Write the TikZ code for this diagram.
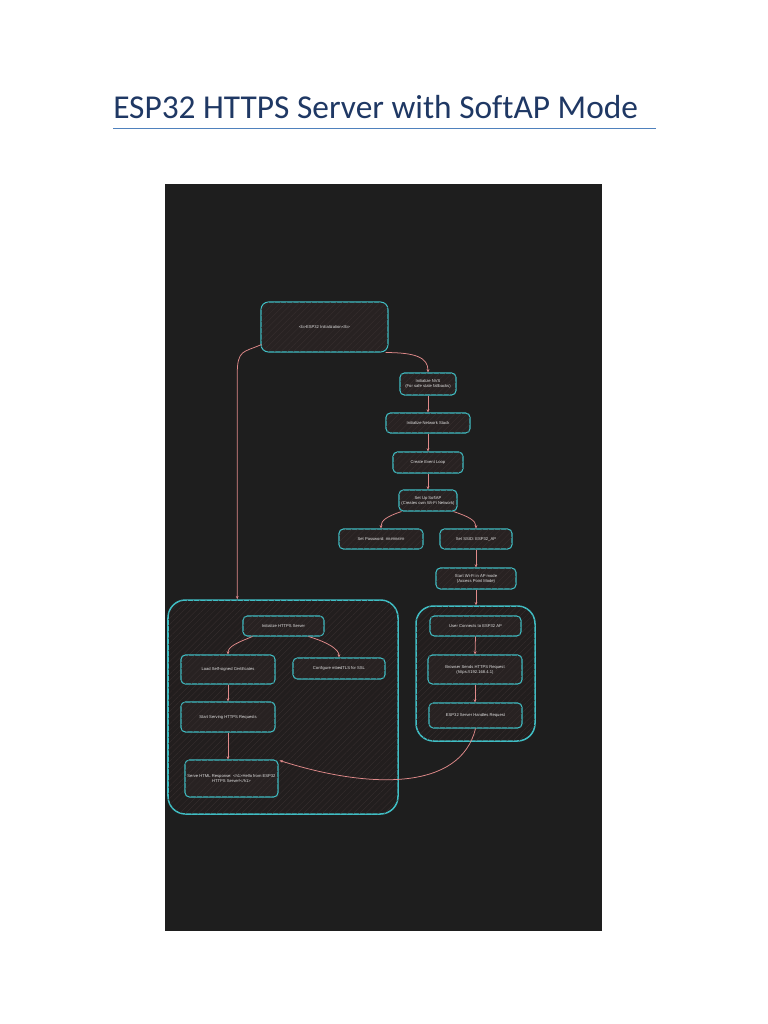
\documentclass[tikz,border=0pt]{standalone}
\usepackage{fontspec}
\setmainfont{Liberation Sans}
\newfontfamily\titlefont[Ligatures=NoCommon]{Carlito}
\usetikzlibrary{arrows.meta,patterns.meta,calc}
\newdimen\px \px=0.796875pt
\definecolor{cyanb}{RGB}{64,190,196}
\definecolor{edgec}{RGB}{224,138,138}
\definecolor{bgdark}{RGB}{30,30,30}
\definecolor{nodefill}{RGB}{40,34,34}
\definecolor{clfill}{RGB}{34,30,30}
\definecolor{hatch}{RGB}{56,47,47}
\definecolor{txt}{RGB}{228,228,228}
\definecolor{titleblue}{RGB}{31,56,100}
\definecolor{uline}{RGB}{79,129,189}
\tikzset{
  box/.style={draw=cyanb, line width=0.85pt, rounded corners=3.5pt, fill=nodefill,
    text=txt, font=\fontsize{3.3}{4.1}\selectfont, align=center, inner sep=0pt,
    postaction={pattern={Lines[angle=45,distance=3.5pt,line width=0.25pt]}, pattern color=hatch}},
  cluster/.style={draw=cyanb, line width=1.2pt, rounded corners=14pt, fill=clfill,
    inner sep=0pt,
    postaction={pattern={Lines[angle=45,distance=3.5pt,line width=0.25pt]}, pattern color=hatch}},
  edge/.style={draw=edgec, line width=0.6pt, -{Stealth[length=2.6pt,width=2.2pt]}}
}
\begin{document}
\begin{tikzpicture}[x=0.796875pt, y=-0.796875pt]
\useasboundingbox (0,0) rectangle (768,1024);
\fill[white] (0,0) rectangle (768,1024);
% title
\node[anchor=base west, inner sep=0pt, text=titleblue, font=\titlefont\fontsize{26.6}{30}\selectfont] (title) at (113,118) {ESP32 HTTPS Server with SoftAP Mode};
\draw[uline, line width=0.7pt] (113,128) -- (656,128);
% dark canvas
\fill[bgdark] (165,184) rectangle (602,931);
% clusters
\node[cluster, minimum width=230\px, minimum height=214\px] (leftc) at (283,707) {};
\node[cluster, minimum width=119\px, minimum height=135\px] (rightc) at (475.5,673.5) {};
% nodes
\node[box, rounded corners=6pt, minimum width=127\px, minimum height=50\px] (init) at (324.5,327) {<b>ESP32 Initialization</b>};
\node[box, minimum width=56\px, minimum height=22\px] (nvs) at (428,384) {Initialize NVS\\(For safe state fallbacks)};
\node[box, minimum width=84\px, minimum height=20\px] (net) at (428,423) {Initialize Network Stack};
\node[box, minimum width=70\px, minimum height=21\px] (evt) at (428,462.5) {Create Event Loop};
\node[box, minimum width=58\px, minimum height=21\px] (softap) at (428,500.5) {Set Up SoftAP\\(Creates own Wi-Fi Network)};
\node[box, minimum width=84\px, minimum height=20\px] (pwd) at (381,539) {Set Password: \#\#\#\#\#\#\#\#};
\node[box, minimum width=72\px, minimum height=20\px] (ssid) at (476,539) {Set SSID: ESP32\_AP};
\node[box, minimum width=80\px, minimum height=21\px] (start) at (476,578.5) {Start Wi-Fi in AP mode\\(Access Point Mode)};
\node[box, minimum width=91\px, minimum height=20\px] (user) at (475.5,626) {User Connects to ESP32 AP};
\node[box, minimum width=94\px, minimum height=29\px] (browser) at (475,669.5) {Browser Sends HTTPS Request\\(https://192.168.4.1)};
\node[box, minimum width=93\px, minimum height=25\px] (handles) at (475.5,715.5) {ESP32 Server Handles Request};
\node[box, minimum width=81\px, minimum height=20\px] (https) at (283.5,626) {Initialize HTTPS Server};
\node[box, minimum width=94\px, minimum height=29\px] (load) at (228,669.5) {Load Self-signed Certificates};
\node[box, minimum width=92\px, minimum height=21\px] (mbed) at (339,668.5) {Configure mbedTLS for SSL};
\node[box, minimum width=94\px, minimum height=30\px] (serving) at (228,717) {Start Serving HTTPS Requests};
\node[box, minimum width=93\px, minimum height=37\px] (serve) at (231.5,778.5) {Serve HTML Response: <h1>Hello from ESP32\\HTTPS Server!</h1>};
% edges
\draw[edge] ($(init.south east)+(-3,0)$) .. controls +(30,0) and +(0,-15) .. (nvs.north);
\draw[edge] ($(init.south west)+(1,-8)$) .. controls +(-18,8) and +(0,-25) .. ($(leftc.north west)+(70,-225)$) -- ($(leftc.north west)+(70,0)$);
\draw[edge] (nvs.south) -- (net.north);
\draw[edge] (net.south) -- (evt.north);
\draw[edge] (evt.south) -- (softap.north);
\draw[edge] ($(softap.south west)+(3,0)$) .. controls +(-15,5) and +(0,-8) .. (pwd.north);
\draw[edge] ($(softap.south east)+(-4,0)$) .. controls +(15,5) and +(0,-8) .. (ssid.north);
\draw[edge] (ssid.south) -- (start.north);
\draw[edge] (start.south) -- (start.south |- rightc.north);
\draw[edge] (user.south) -- (browser.north);
\draw[edge] (browser.south) -- (browser.south |- handles.north);
\draw[edge] ($(https.south west)+(10,0)$) .. controls +(-15,6) and +(0,-8) .. (load.north);
\draw[edge] ($(https.south east)+(-16,0)$) .. controls +(20,6) and +(0,-8) .. (mbed.north);
\draw[edge] (load.south) -- (serving.north);
\draw[edge] (serving.south) -- (serving.south |- serve.north);
\draw[edge] (handles.south) .. controls +(-15,62) and +(91,29) .. ($(serve.north east)+(1,1)$);
\end{tikzpicture}
\end{document}
